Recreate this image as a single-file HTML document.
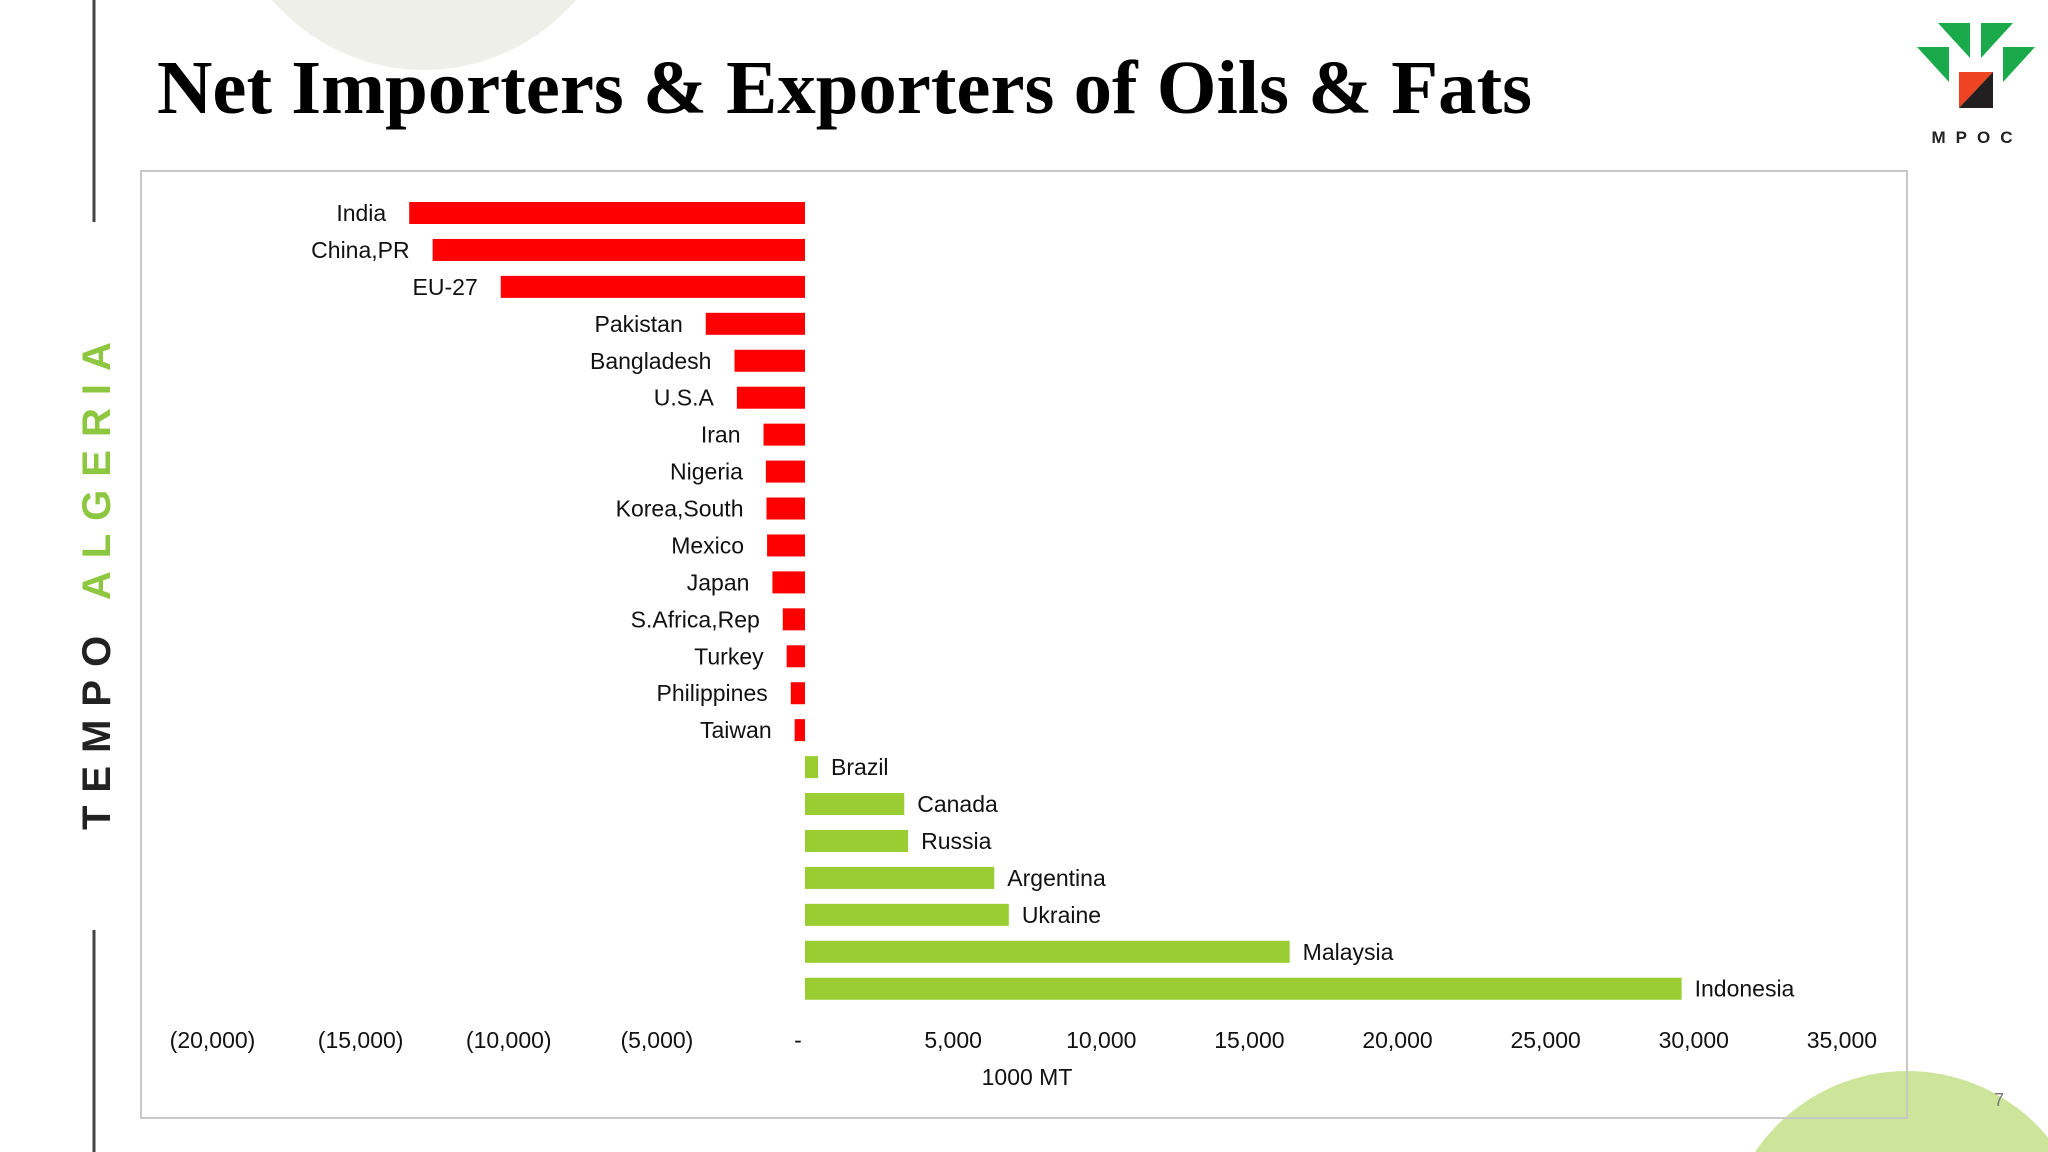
<!DOCTYPE html>
<html><head><meta charset="utf-8"><style>
html,body{margin:0;padding:0;background:#fff;width:2048px;height:1152px;overflow:hidden}
svg{display:block;overflow:hidden}
text{font-family:"Liberation Sans",sans-serif}
</style></head><body>
<svg id="c" width="2048" height="1152" viewBox="0 0 2048 1152" xmlns="http://www.w3.org/2000/svg">
<circle cx="424" cy="-130" r="200" fill="#efefea"/>
<circle cx="1907" cy="1254" r="183" fill="#cde59a"/>
<line x1="94" y1="0" x2="94" y2="222" stroke="#444" stroke-width="3"/>
<line x1="94" y1="930" x2="94" y2="1152" stroke="#444" stroke-width="3"/>
<text transform="translate(110,830) rotate(-90)" font-size="40" font-weight="bold" letter-spacing="13"><tspan fill="#222">TEMPO </tspan><tspan fill="#8dc63f">ALGERIA</tspan></text>
<text x="157" y="113" font-weight="bold" font-size="76" textLength="1375" lengthAdjust="spacingAndGlyphs" style="font-family:'Liberation Serif',serif">Net Importers &amp; Exporters of Oils &amp; Fats</text>
<g>
<polygon points="1938,23 1970,23 1970,58" fill="#1aaa4b"/>
<polygon points="1981,23 2013,23 1981,58" fill="#1aaa4b"/>
<polygon points="1917,47 1949,47 1949,82" fill="#1aaa4b"/>
<polygon points="2003,47 2035,47 2003,82" fill="#1aaa4b"/>
<polygon points="1959,72 1993,72 1959,108" fill="#ee4423"/>
<polygon points="1993,72 1993,108 1959,108" fill="#231f20"/>
<text x="1977" y="143" font-size="17" font-weight="bold" text-anchor="middle" letter-spacing="10" fill="#222">MPOC</text>
</g>
<rect x="141" y="171" width="1766" height="947" fill="none" stroke="#c8c8c8" stroke-width="2"/>
<g id="plot"></g>
<text x="1999" y="1106" font-size="18" fill="#777" text-anchor="middle">7</text>
</svg>
<script>
const categories=["India","China,PR","EU-27","Pakistan","Bangladesh","U.S.A","Iran","Nigeria","Korea,South","Mexico","Japan","S.Africa,Rep","Turkey","Philippines","Taiwan","Brazil","Canada","Russia","Argentina","Ukraine","Malaysia","Indonesia"];
const values=[-13360,-12570,-10270,-3350,-2380,-2300,-1400,-1320,-1300,-1280,-1100,-750,-620,-480,-350,440,3350,3480,6390,6880,16360,29590];
const tickValues=[-20000,-15000,-10000,-5000,0,5000,10000,15000,20000,25000,30000,35000];
const tickLabels=["(20,000)","(15,000)","(10,000)","(5,000)","-","5,000","10,000","15,000","20,000","25,000","30,000","35,000"];
const NS="http://www.w3.org/2000/svg";
const g=document.getElementById('plot');
const x=v=>805+v*0.029625;
const y=i=>213+i*36.94;
function mk(t,a){const e=document.createElementNS(NS,t);for(const k in a)e.setAttribute(k,a[k]);g.appendChild(e);return e;}
categories.forEach((c,i)=>{
  const v=values[i];const x0=Math.min(x(0),x(v)),w=Math.abs(x(v)-x(0));
  const r=mk('rect',{x:x0,y:y(i)-11,width:w,height:22,fill:v<0?'#ff0000':'#9acd32'});
  
  
  const t=mk('text',{x:v<0?x(v)-23:x(v)+13,y:y(i)+8,'font-size':23,'text-anchor':v<0?'end':'start',fill:'#111'});
  t.textContent=c;
  
  
});
tickValues.forEach((v,i)=>{
  const t=mk('text',{x:x(v)-(v===0?7:0),y:1048,'font-size':23,'text-anchor':'middle',fill:'#111'});
  t.textContent=tickLabels[i];
  
  
});
const at=mk('text',{x:1027,y:1085,'font-size':23,'text-anchor':'middle',fill:'#111'});
at.textContent='1000 MT';


</script>
</body></html>
